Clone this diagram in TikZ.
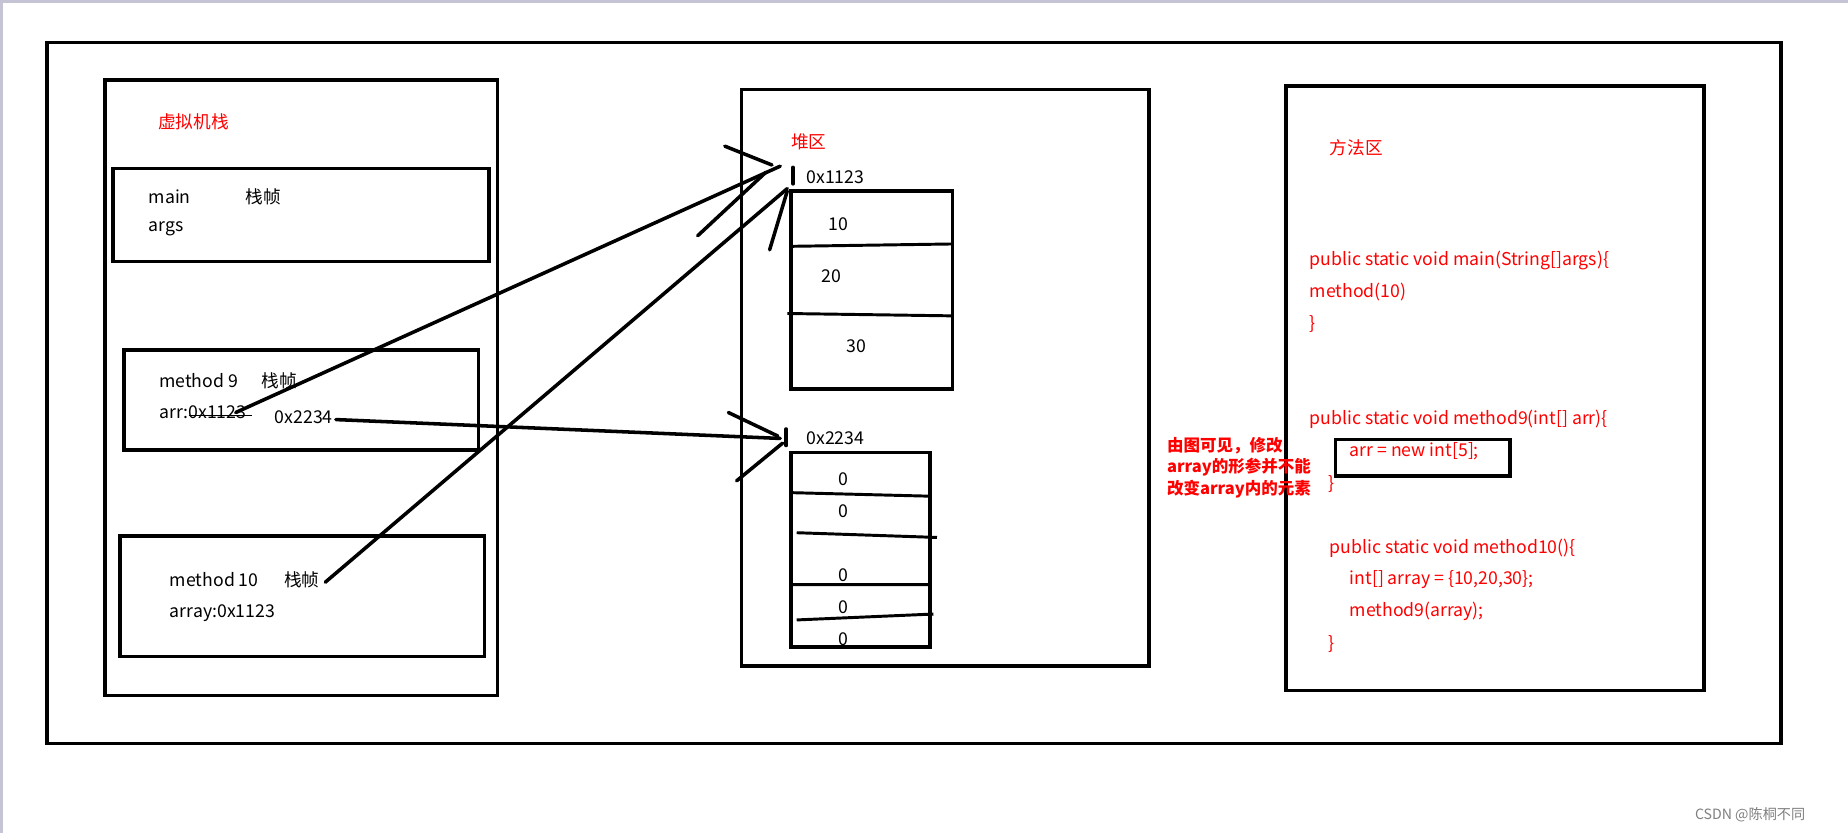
\documentclass[tikz,border=0pt]{standalone}
\usepackage{fontspec}
\setmainfont{Noto Sans CJK SC}
\begin{document}
\begin{tikzpicture}[x=1pt,y=-1pt,
 box/.style={draw,line width=3pt},
 t/.style={inner sep=0pt,anchor=west,font=\fontsize{15}{18}\selectfont},
 r/.style={t,text=red},
 stroke/.style={line width=3pt,line cap=round}]
\useasboundingbox[fill=white] (0,0) rectangle (1568,707);
\draw[color=blue!15!gray!40,line width=3pt] (0,1)--(1568,1) (1,0)--(1,707);
\draw[box] (40,36) rectangle (1511,631);
\draw[box] (89,68) rectangle (422,590);
\draw[box] (96,143) rectangle (415,222);
\draw[box] (105,297) rectangle (406,382);
\draw[box] (102,455) rectangle (411,557);
\draw[box] (629,76) rectangle (975,565);
\draw[box] (671,162) rectangle (808,330);
\draw[line width=2.5pt] (671,209)--(808,207) (668,266)--(808,268);
\draw[box] (671,384) rectangle (789,549);
\draw[line width=2.5pt] (671,418)--(789,421) (676,452)--(795,456) (671,496)--(789,496) (676,526)--(792,521);
\draw[box] (1091,73) rectangle (1446,586);
\draw[box] (1133,373) rectangle (1281,404);
\node[r] (vs) at (134,103) {虚拟机栈};
\node[t] (m) at (126,167) {main};
\node[t] at (208,167) {栈帧};
\node[t] at (126,194) {args};
\node[t] at (135,323) {method 9};
\node[t] at (222,323) {栈帧};
\node[t] (a9) at (135,350) {arr:0x1123};
\draw (160,352)--(214,352);
\node[t] (b9) at (233,354) {0x2234};
\node[t] at (144,492) {method 10};
\node[t] (z10) at (241,492) {栈帧};
\node[t] at (144,520) {array:0x1123};
\node[r] at (671,120) {堆区};
\node[t] (h1) at (684,150) {0x1123};
\node[t] at (703,190) {10};
\node[t] at (697,234) {20};
\node[t] at (718,294) {30};
\node[t] (h2) at (684,372) {0x2234};
\foreach \y in {407,434,488,515,542} \node[t] at (711,\y) {0};
\node[r] at (1128,125) {方法区};
\node[r] at (1111,221) {public static void main(String[]args)\{};
\node[r] at (1111,248) {method(10)};
\node[r] at (1111,275) {\}};
\node[r] at (1111,356) {public static void method9(int[] arr)\{};
\node[r] at (1145,383) {arr = new int[5];};
\node[r] at (1127,411) {\}};
\node[r] at (1128,465) {public static void method10()\{};
\node[r] at (1145,492) {int[] array = \{10,20,30\};};
\node[r] at (1145,519) {method9(array);};
\node[r] at (1127,546) {\}};
\node[t,text=red,font=\fontsize{14}{18}\selectfont\bfseries,align=left,anchor=north west] (note) at (990,371) {由图可见，修改\\array的形参并不能\\改变array内的元素};
\node[t,text=gray,font=\fontsize{12}{14}\selectfont] at (1438,691) {CSDN @陈桐不同};
\coordinate (s1) at (200,350); \coordinate (e1) at (662,141);
\coordinate (s2) at (276,494); \coordinate (e2) at (668,160);
\coordinate (s3) at (285,356); \coordinate (e3) at (662,372);
\draw[stroke] (s1)--(e1);
\draw[stroke] (s2)--(e2);
\draw[stroke] (s3)--(e3);
\draw[stroke] (615,124)--(655,140) (592,200)--(650,146) (653,212)--(668,162);
\draw[stroke] (673,142)--(673,156) (667,364)--(667,378);
\draw[stroke] (618,350)--(660,370) (625,408)--(664,376);
\end{tikzpicture}
\end{document}
